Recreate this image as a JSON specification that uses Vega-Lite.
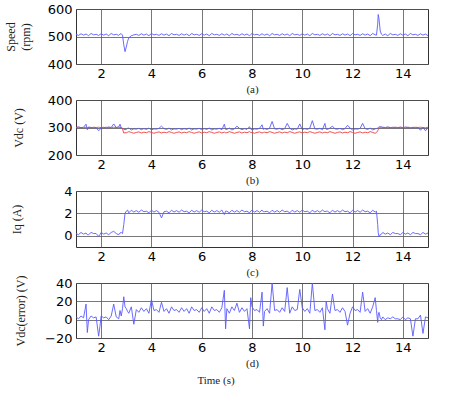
{
  "$schema": "https://vega.github.io/schema/vega-lite/v6.json",
  "padding": {"left": 3, "top": 2, "right": 5, "bottom": 5},
  "background": "white",
  "bounds": "flush",
  "spacing": 36,
  "title": {"text": "Time (s)", "orient": "bottom", "anchor": "middle", "font": "Liberation Serif", "fontSize": 11, "fontWeight": "normal", "color": "#222", "offset": 6},
  "config": {
    "view": {"stroke": "#333", "strokeWidth": 1},
    "axis": {"domain": false, "ticks": false, "grid": true, "gridColor": "#555", "gridWidth": 0.8, "gridOpacity": 1, "labelOverlap": false,
             "labelFont": "DejaVu Sans", "labelFontSize": 13, "labelColor": "#000",
             "titleFont": "Liberation Serif", "titleFontSize": 11, "titleFontWeight": "normal", "titleColor": "#222"},
    "axisX": {"labelPadding": 3, "titlePadding": 3, "values": [2, 4, 6, 8, 10, 12, 14]},
    "axisY": {"labelPadding": 4, "minExtent": 30, "maxExtent": 30, "titleFontSize": 12, "titleLineHeight": 15}
  },
  "datasets": {
    "sig": [
      {"t":1.0,"speed":508,"vdc":300,"vref":300,"iq":0.2,"err":3},
      {"t":1.1,"speed":504,"vdc":302,"vref":301,"iq":0.1,"err":1},
      {"t":1.2,"speed":510,"vdc":299,"vref":300,"iq":0.3,"err":4},
      {"t":1.3,"speed":505,"vdc":301,"vref":299,"iq":0.15,"err":2},
      {"t":1.4,"speed":509,"vdc":312,"vref":301,"iq":0.25,"err":17},
      {"t":1.45,"speed":506,"vdc":292,"vref":300,"iq":0.1,"err":-14},
      {"t":1.5,"speed":503,"vdc":302,"vref":300,"iq":0.1,"err":0},
      {"t":1.6,"speed":511,"vdc":300,"vref":299,"iq":0.3,"err":4},
      {"t":1.7,"speed":506,"vdc":299,"vref":301,"iq":0.2,"err":2},
      {"t":1.8,"speed":508,"vdc":300,"vref":300,"iq":0.2,"err":3},
      {"t":1.9,"speed":504,"vdc":288,"vref":301,"iq":-0.05,"err":-18},
      {"t":1.95,"speed":507,"vdc":293,"vref":300,"iq":0.1,"err":-8},
      {"t":2.0,"speed":510,"vdc":299,"vref":300,"iq":0.3,"err":4},
      {"t":2.1,"speed":505,"vdc":301,"vref":299,"iq":0.15,"err":2},
      {"t":2.2,"speed":509,"vdc":298,"vref":301,"iq":0.25,"err":3},
      {"t":2.3,"speed":503,"vdc":302,"vref":300,"iq":0.1,"err":0},
      {"t":2.4,"speed":511,"vdc":300,"vref":299,"iq":0.3,"err":4},
      {"t":2.5,"speed":506,"vdc":313,"vref":301,"iq":0.4,"err":17},
      {"t":2.6,"speed":508,"vdc":300,"vref":300,"iq":0.2,"err":3},
      {"t":2.7,"speed":504,"vdc":302,"vref":301,"iq":0.1,"err":1},
      {"t":2.75,"speed":509,"vdc":312,"vref":300,"iq":0.25,"err":10},
      {"t":2.8,"speed":510,"vdc":299,"vref":300,"iq":0.3,"err":4},
      {"t":2.85,"speed":505,"vdc":297,"vref":295,"iq":0.2,"err":12},
      {"t":2.9,"speed":470,"vdc":294,"vref":280,"iq":1.0,"err":25},
      {"t":2.95,"speed":445,"vdc":292,"vref":281,"iq":2.0,"err":14},
      {"t":3.0,"speed":462,"vdc":293,"vref":281,"iq":2.2,"err":12},
      {"t":3.05,"speed":482,"vdc":297,"vref":283,"iq":2.3,"err":9},
      {"t":3.1,"speed":495,"vdc":298,"vref":285,"iq":2.05,"err":7},
      {"t":3.2,"speed":503,"vdc":291,"vref":282,"iq":2.28,"err":14},
      {"t":3.3,"speed":506,"vdc":295,"vref":279,"iq":2.12,"err":-5},
      {"t":3.4,"speed":508,"vdc":294,"vref":282,"iq":2.25,"err":11},
      {"t":3.5,"speed":504,"vdc":297,"vref":284,"iq":2.1,"err":8},
      {"t":3.6,"speed":510,"vdc":292,"vref":280,"iq":2.3,"err":13},
      {"t":3.7,"speed":505,"vdc":296,"vref":283,"iq":2.15,"err":9},
      {"t":3.8,"speed":509,"vdc":293,"vref":281,"iq":2.2,"err":12},
      {"t":3.9,"speed":503,"vdc":298,"vref":285,"iq":2.05,"err":7},
      {"t":4.0,"speed":511,"vdc":291,"vref":282,"iq":2.28,"err":22},
      {"t":4.1,"speed":506,"vdc":295,"vref":279,"iq":2.12,"err":10},
      {"t":4.2,"speed":508,"vdc":294,"vref":282,"iq":2.25,"err":11},
      {"t":4.3,"speed":504,"vdc":297,"vref":284,"iq":2.1,"err":8},
      {"t":4.4,"speed":510,"vdc":305,"vref":280,"iq":1.6,"err":19},
      {"t":4.5,"speed":505,"vdc":296,"vref":283,"iq":2.15,"err":9},
      {"t":4.6,"speed":509,"vdc":293,"vref":281,"iq":2.2,"err":12},
      {"t":4.7,"speed":503,"vdc":298,"vref":285,"iq":2.05,"err":7},
      {"t":4.8,"speed":511,"vdc":291,"vref":282,"iq":2.28,"err":14},
      {"t":4.9,"speed":506,"vdc":295,"vref":279,"iq":2.12,"err":10},
      {"t":5.0,"speed":508,"vdc":294,"vref":282,"iq":2.25,"err":11},
      {"t":5.1,"speed":504,"vdc":297,"vref":284,"iq":2.1,"err":8},
      {"t":5.2,"speed":510,"vdc":292,"vref":280,"iq":2.3,"err":13},
      {"t":5.3,"speed":505,"vdc":296,"vref":283,"iq":2.15,"err":9},
      {"t":5.4,"speed":509,"vdc":293,"vref":281,"iq":2.2,"err":12},
      {"t":5.5,"speed":503,"vdc":298,"vref":285,"iq":2.05,"err":7},
      {"t":5.6,"speed":511,"vdc":291,"vref":282,"iq":2.28,"err":14},
      {"t":5.7,"speed":506,"vdc":295,"vref":279,"iq":2.12,"err":10},
      {"t":5.8,"speed":508,"vdc":294,"vref":282,"iq":2.25,"err":11},
      {"t":5.9,"speed":504,"vdc":297,"vref":284,"iq":2.1,"err":8},
      {"t":6.0,"speed":510,"vdc":292,"vref":280,"iq":2.3,"err":13},
      {"t":6.1,"speed":505,"vdc":296,"vref":283,"iq":2.15,"err":9},
      {"t":6.2,"speed":509,"vdc":293,"vref":281,"iq":2.2,"err":12},
      {"t":6.3,"speed":503,"vdc":298,"vref":285,"iq":2.05,"err":7},
      {"t":6.4,"speed":511,"vdc":291,"vref":282,"iq":2.28,"err":14},
      {"t":6.5,"speed":506,"vdc":295,"vref":279,"iq":2.12,"err":10},
      {"t":6.6,"speed":508,"vdc":294,"vref":282,"iq":2.25,"err":11},
      {"t":6.7,"speed":504,"vdc":297,"vref":284,"iq":2.1,"err":8},
      {"t":6.8,"speed":510,"vdc":292,"vref":280,"iq":2.3,"err":13},
      {"t":6.9,"speed":505,"vdc":312,"vref":283,"iq":1.9,"err":32},
      {"t":6.95,"speed":507,"vdc":293,"vref":281,"iq":2.2,"err":-10},
      {"t":7.0,"speed":509,"vdc":293,"vref":281,"iq":2.2,"err":12},
      {"t":7.1,"speed":503,"vdc":298,"vref":285,"iq":2.05,"err":7},
      {"t":7.2,"speed":511,"vdc":291,"vref":282,"iq":2.28,"err":14},
      {"t":7.3,"speed":506,"vdc":295,"vref":279,"iq":2.12,"err":10},
      {"t":7.4,"speed":508,"vdc":305,"vref":282,"iq":2.25,"err":18},
      {"t":7.5,"speed":504,"vdc":297,"vref":284,"iq":2.1,"err":8},
      {"t":7.6,"speed":510,"vdc":292,"vref":280,"iq":2.3,"err":13},
      {"t":7.7,"speed":505,"vdc":296,"vref":283,"iq":2.15,"err":9},
      {"t":7.8,"speed":509,"vdc":293,"vref":281,"iq":2.2,"err":12},
      {"t":7.9,"speed":503,"vdc":303,"vref":285,"iq":2.05,"err":-10},
      {"t":7.95,"speed":507,"vdc":294,"vref":282,"iq":2.2,"err":24},
      {"t":8.0,"speed":511,"vdc":291,"vref":282,"iq":2.28,"err":14},
      {"t":8.1,"speed":506,"vdc":295,"vref":279,"iq":2.12,"err":10},
      {"t":8.2,"speed":508,"vdc":294,"vref":282,"iq":2.25,"err":11},
      {"t":8.3,"speed":504,"vdc":297,"vref":284,"iq":2.1,"err":8},
      {"t":8.4,"speed":510,"vdc":310,"vref":280,"iq":2.3,"err":30},
      {"t":8.45,"speed":507,"vdc":293,"vref":282,"iq":2.15,"err":-7},
      {"t":8.5,"speed":505,"vdc":296,"vref":283,"iq":2.15,"err":9},
      {"t":8.6,"speed":509,"vdc":293,"vref":281,"iq":2.2,"err":12},
      {"t":8.7,"speed":503,"vdc":298,"vref":285,"iq":2.05,"err":7},
      {"t":8.8,"speed":511,"vdc":322,"vref":282,"iq":2.28,"err":40},
      {"t":8.9,"speed":506,"vdc":295,"vref":279,"iq":2.12,"err":10},
      {"t":9.0,"speed":508,"vdc":294,"vref":282,"iq":2.25,"err":11},
      {"t":9.1,"speed":504,"vdc":297,"vref":284,"iq":2.1,"err":8},
      {"t":9.2,"speed":510,"vdc":292,"vref":280,"iq":2.3,"err":13},
      {"t":9.3,"speed":505,"vdc":296,"vref":283,"iq":2.15,"err":9},
      {"t":9.4,"speed":509,"vdc":315,"vref":281,"iq":2.2,"err":35},
      {"t":9.5,"speed":503,"vdc":298,"vref":285,"iq":2.05,"err":7},
      {"t":9.6,"speed":511,"vdc":291,"vref":282,"iq":2.28,"err":14},
      {"t":9.7,"speed":506,"vdc":295,"vref":279,"iq":2.12,"err":10},
      {"t":9.8,"speed":508,"vdc":294,"vref":282,"iq":2.25,"err":11},
      {"t":9.9,"speed":504,"vdc":313,"vref":284,"iq":2.1,"err":33},
      {"t":10.0,"speed":510,"vdc":292,"vref":280,"iq":2.3,"err":13},
      {"t":10.1,"speed":505,"vdc":296,"vref":283,"iq":2.15,"err":9},
      {"t":10.2,"speed":509,"vdc":293,"vref":281,"iq":2.2,"err":12},
      {"t":10.3,"speed":503,"vdc":298,"vref":285,"iq":2.05,"err":7},
      {"t":10.4,"speed":511,"vdc":325,"vref":282,"iq":2.28,"err":40},
      {"t":10.5,"speed":506,"vdc":295,"vref":279,"iq":2.12,"err":10},
      {"t":10.6,"speed":508,"vdc":294,"vref":282,"iq":2.25,"err":11},
      {"t":10.7,"speed":504,"vdc":297,"vref":284,"iq":2.1,"err":8},
      {"t":10.8,"speed":510,"vdc":292,"vref":280,"iq":2.3,"err":13},
      {"t":10.9,"speed":505,"vdc":315,"vref":283,"iq":2.15,"err":-11},
      {"t":10.95,"speed":507,"vdc":294,"vref":282,"iq":2.2,"err":20},
      {"t":11.0,"speed":509,"vdc":293,"vref":281,"iq":2.2,"err":12},
      {"t":11.1,"speed":503,"vdc":298,"vref":285,"iq":2.05,"err":7},
      {"t":11.2,"speed":511,"vdc":305,"vref":282,"iq":2.28,"err":28},
      {"t":11.3,"speed":506,"vdc":295,"vref":279,"iq":2.12,"err":10},
      {"t":11.4,"speed":508,"vdc":294,"vref":282,"iq":2.25,"err":11},
      {"t":11.5,"speed":504,"vdc":297,"vref":284,"iq":2.1,"err":8},
      {"t":11.6,"speed":510,"vdc":292,"vref":280,"iq":2.3,"err":13},
      {"t":11.7,"speed":505,"vdc":296,"vref":283,"iq":2.15,"err":9},
      {"t":11.8,"speed":509,"vdc":308,"vref":281,"iq":2.2,"err":-6},
      {"t":11.9,"speed":503,"vdc":298,"vref":285,"iq":2.05,"err":7},
      {"t":12.0,"speed":511,"vdc":291,"vref":282,"iq":2.28,"err":14},
      {"t":12.1,"speed":506,"vdc":295,"vref":279,"iq":2.12,"err":10},
      {"t":12.2,"speed":508,"vdc":294,"vref":282,"iq":2.25,"err":11},
      {"t":12.3,"speed":504,"vdc":297,"vref":284,"iq":2.1,"err":8},
      {"t":12.4,"speed":510,"vdc":315,"vref":280,"iq":2.3,"err":30},
      {"t":12.5,"speed":505,"vdc":296,"vref":283,"iq":2.15,"err":9},
      {"t":12.6,"speed":509,"vdc":293,"vref":281,"iq":2.2,"err":12},
      {"t":12.7,"speed":503,"vdc":298,"vref":285,"iq":2.05,"err":7},
      {"t":12.8,"speed":511,"vdc":291,"vref":282,"iq":2.28,"err":14},
      {"t":12.9,"speed":506,"vdc":295,"vref":279,"iq":2.12,"err":24},
      {"t":12.95,"speed":505,"vdc":296,"vref":282,"iq":2.2,"err":10},
      {"t":13.0,"speed":545,"vdc":298,"vref":288,"iq":1.0,"err":-3},
      {"t":13.02,"speed":580,"vdc":300,"vref":292,"iq":0.3,"err":5},
      {"t":13.05,"speed":565,"vdc":302,"vref":297,"iq":-0.1,"err":8},
      {"t":13.1,"speed":520,"vdc":303,"vref":300,"iq":0.1,"err":2},
      {"t":13.15,"speed":508,"vdc":302,"vref":301,"iq":0.15,"err":0},
      {"t":13.2,"speed":504,"vdc":301,"vref":300,"iq":0.3,"err":3},
      {"t":13.3,"speed":509,"vdc":300,"vref":299,"iq":0.15,"err":0},
      {"t":13.4,"speed":503,"vdc":302,"vref":301,"iq":0.25,"err":2},
      {"t":13.5,"speed":511,"vdc":299,"vref":300,"iq":0.1,"err":1},
      {"t":13.6,"speed":506,"vdc":301,"vref":299,"iq":0.3,"err":3},
      {"t":13.7,"speed":508,"vdc":300,"vref":301,"iq":0.2,"err":1},
      {"t":13.8,"speed":504,"vdc":299,"vref":300,"iq":0.2,"err":1},
      {"t":13.9,"speed":510,"vdc":301,"vref":301,"iq":0.1,"err":0},
      {"t":14.0,"speed":505,"vdc":299,"vref":300,"iq":0.3,"err":3},
      {"t":14.1,"speed":509,"vdc":302,"vref":299,"iq":0.15,"err":0},
      {"t":14.2,"speed":503,"vdc":300,"vref":301,"iq":0.25,"err":2},
      {"t":14.3,"speed":511,"vdc":298,"vref":300,"iq":0.1,"err":1},
      {"t":14.4,"speed":506,"vdc":301,"vref":299,"iq":0.3,"err":-18},
      {"t":14.5,"speed":508,"vdc":299,"vref":301,"iq":0.2,"err":1},
      {"t":14.6,"speed":504,"vdc":300,"vref":300,"iq":0.2,"err":1},
      {"t":14.7,"speed":510,"vdc":290,"vref":301,"iq":0.1,"err":5},
      {"t":14.8,"speed":505,"vdc":301,"vref":300,"iq":0.3,"err":-15},
      {"t":14.9,"speed":509,"vdc":288,"vref":299,"iq":0.15,"err":3},
      {"t":15.0,"speed":503,"vdc":300,"vref":301,"iq":0.25,"err":2}
    ]
  },
  "vconcat": [
    {
      "width": 352, "height": 55,
      "data": {"name": "sig"},
      "mark": {"type": "line", "color": "#5a5aff", "strokeWidth": 0.9, "clip": true},
      "encoding": {
        "x": {"field": "t", "type": "quantitative", "scale": {"domain": [1, 15], "nice": false}, "axis": {"title": "(a)"}},
        "y": {"field": "speed", "type": "quantitative", "scale": {"domain": [400, 600], "nice": false},
              "axis": {"values": [400, 500, 600], "title": ["Speed", "(rpm)"], "titlePadding": 14}}
      }
    },
    {
      "width": 352, "height": 55,
      "data": {"name": "sig"},
      "encoding": {
        "x": {"field": "t", "type": "quantitative", "scale": {"domain": [1, 15], "nice": false}, "axis": {"title": "(b)"}}
      },
      "layer": [
        {
          "mark": {"type": "line", "color": "#5a5aff", "strokeWidth": 0.9, "clip": true},
          "encoding": {
            "y": {"field": "vdc", "type": "quantitative", "scale": {"domain": [200, 400], "nice": false},
                  "axis": {"values": [200, 300, 400], "title": "Vdc (V)", "titlePadding": 21}}
          }
        },
        {
          "mark": {"type": "line", "color": "#f03c3c", "strokeWidth": 0.9, "clip": true},
          "encoding": {
            "y": {"field": "vref", "type": "quantitative", "scale": {"domain": [200, 400], "nice": false},
                  "axis": {"values": [200, 300, 400], "title": "Vdc (V)", "titlePadding": 21}}
          }
        }
      ]
    },
    {
      "width": 352, "height": 56,
      "data": {"name": "sig"},
      "mark": {"type": "line", "color": "#5a5aff", "strokeWidth": 0.9, "clip": true},
      "encoding": {
        "x": {"field": "t", "type": "quantitative", "scale": {"domain": [1, 15], "nice": false}, "axis": {"title": "(c)"}},
        "y": {"field": "iq", "type": "quantitative", "scale": {"domain": [-1, 4], "nice": false},
              "axis": {"values": [0, 2, 4], "title": "Iq (A)", "titlePadding": 23}}
      }
    },
    {
      "width": 352, "height": 55,
      "data": {"name": "sig"},
      "mark": {"type": "line", "color": "#5a5aff", "strokeWidth": 0.9, "clip": true},
      "encoding": {
        "x": {"field": "t", "type": "quantitative", "scale": {"domain": [1, 15], "nice": false}, "axis": {"title": "(d)"}},
        "y": {"field": "err", "type": "quantitative", "scale": {"domain": [-20, 40], "nice": false},
              "axis": {"values": [-20, 0, 20, 40], "title": "Vdc(error) (V)", "titlePadding": 19}}
      }
    }
  ]
}
